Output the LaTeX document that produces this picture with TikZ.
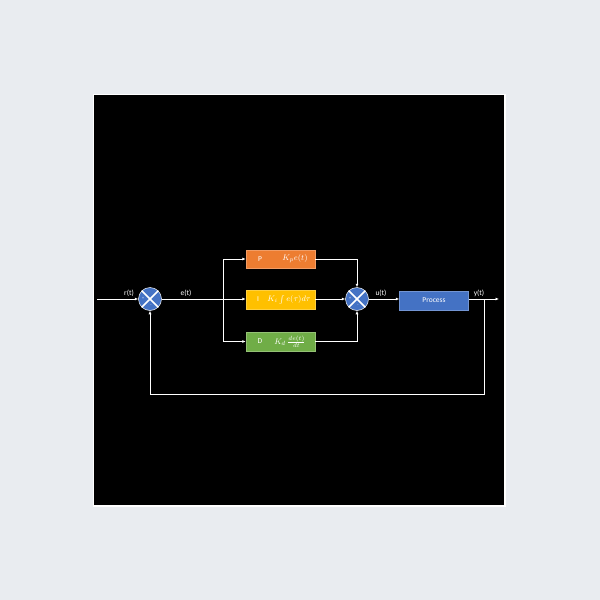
\documentclass[tikz,border=0pt]{standalone}
\usepackage{fontspec}
\setmainfont{Carlito}
\usepackage{amsmath}
\usetikzlibrary{arrows.meta}
\definecolor{wallbg}{HTML}{E9ECF0}
\definecolor{porange}{HTML}{ED7D31}
\definecolor{igold}{HTML}{FFC000}
\definecolor{dgreen}{HTML}{70AD47}
\definecolor{procblue}{HTML}{4472C4}
\tikzset{
  blockbox/.style={minimum width=69pt, minimum height=18.5pt, inner sep=0pt, line width=0.5pt, text=white, font=\fontsize{7.5}{8}\selectfont},
  sumnode/.style={circle, fill=procblue, draw=white, line width=0.5pt, minimum size=23pt, inner sep=0pt},
  wire/.style={draw=white, line width=0.7pt},
  arr/.style={wire, -{Latex[length=3.5pt,width=3pt]}},
  sig/.style={text=white, font=\fontsize{7.5}{8}\selectfont, inner sep=0pt},
  mathlbl/.style={text=white, font=\fontsize{8.5}{9}\selectfont, inner sep=0pt},
  pm/.style={text=white, font=\fontsize{4}{4}\selectfont, inner sep=0pt}
}
\begin{document}
\begin{tikzpicture}[x=1pt,y=-1pt]
\useasboundingbox (0,0) rectangle (600,600);
\fill[wallbg] (0,0) rectangle (600,600);
\fill[white] (92.5,93.5) rectangle (505.5,506.5);
\fill[black] (94,95) rectangle (504,505);
% nodes
\coordinate (in) at (97,299);
\node[sumnode] (s1) at (150,299) {};
\draw[white, line width=1.6pt] (s1.north west) -- (s1.south east) (s1.north east) -- (s1.south west);
\node[pm] (s1p) at (143,298) {+};
\node[pm] (s1m) at (151,306) {-};
\coordinate (br) at (223,299);
\node[blockbox, fill=porange, draw=porange!75!white] (P) at (280.5,259) {};
\node[blockbox, fill=igold, draw=igold!75!white] (I) at (280.5,299.5) {};
\node[blockbox, fill=dgreen, draw=dgreen!75!white] (D) at (280.5,341.5) {};
\node[sig] (Pl) at (260,259) {P};
\node[mathlbl] (Pm) at (295,259) {$K_p e(t)$};
\node[sig] (Il) at (258,299.5) {I};
\node[mathlbl] (Im) at (289,299.5) {$K_i\int e(\tau)d\tau$};
\node[sig] (Dl) at (260,341.5) {D};
\node[mathlbl] (Dm) at (290,341.5) {$K_d\,\frac{de(t)}{dt}$};
\node[sumnode] (s2) at (357,299) {};
\draw[white, line width=1.6pt] (s2.north west) -- (s2.south east) (s2.north east) -- (s2.south west);
\node[pm] (s2p) at (350,298) {+};
\node[pm] (s2m) at (358,306) {-};
\node[blockbox, fill=procblue, draw=procblue!75!white] (proc) at (434,300.5) {Process};
\coordinate (fb) at (484,299);
\coordinate (out) at (499,299);
\coordinate (fbd) at (484,394);
\coordinate (fbl) at (150,394);
\coordinate (pr) at (357,259);
\coordinate (dr) at (357,341.5);
% labels
\node[sig] (rl) at (129,293) {r(t)};
\node[sig] (el) at (186,293) {e(t)};
\node[sig] (ul) at (381,293) {u(t)};
\node[sig] (yl) at (479,293) {y(t)};
% wires
\draw[arr] (in) -- (s1);
\draw[wire] (s1) -- (br);
\draw[wire] (br |- P.west) -- (br |- D.west);
\draw[arr] (br |- P.west) -- (P.west);
\draw[arr] (br) -- (br -| I.west);
\draw[arr] (br |- D.west) -- (D.west);
\draw[wire] (P.east) -- (pr);
\draw[arr] (pr) -- (s2.north);
\draw[arr] (I.east |- s2) -- (s2.west);
\draw[wire] (D.east) -- (dr);
\draw[arr] (dr) -- (s2.south);
\draw[arr] (s2) -- (proc.west |- s2);
\draw[arr] (proc.east |- out) -- (out);
\draw[wire] (fb) -- (fbd) -- (fbl);
\draw[arr] (fbl) -- (s1.south);
\end{tikzpicture}
\end{document}
